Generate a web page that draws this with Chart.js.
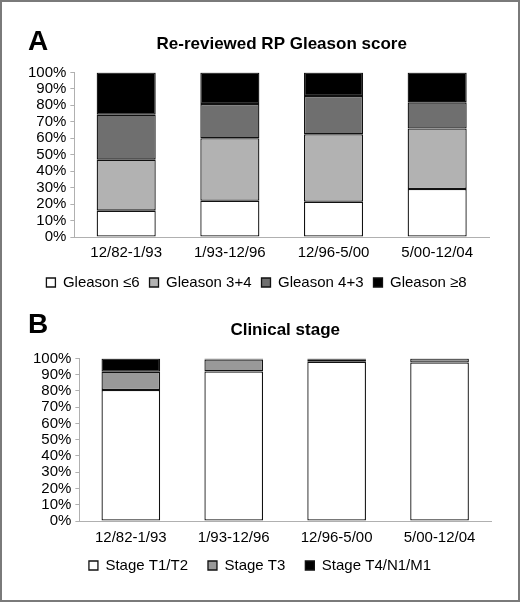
<!DOCTYPE html>
<html>
<head>
<meta charset="utf-8">
<script src="https://cdn.jsdelivr.net/npm/chart.js@4"></script>
<style>
  html, body { margin: 0; padding: 0; background: #fff; }
  #frame { position: relative; width: 520px; height: 602px; box-sizing: border-box; border: 2px solid #7a7a7a; background: #fff; overflow: hidden; }
  .panel { position: absolute; left: -2px; width: 520px; }
  .tag { position: absolute; left: 26px; font: bold 28px "Liberation Sans", Arial, sans-serif; color: #000; }
</style>
</head>
<body>
<div id="frame">
  <div class="panel" style="top:-2px;height:302px"><canvas id="chartA"></canvas></div>
  <div class="panel" style="top:298px;height:304px"><canvas id="chartB"></canvas></div>
  <div class="tag" style="top:23px">A</div>
  <div class="tag" style="top:306px">B</div>
</div>
<script>
const periods = ['12/82-1/93', '1/93-12/96', '12/96-5/00', '5/00-12/04'];
const yTicks = [0, 10, 20, 30, 40, 50, 60, 70, 80, 90, 100];

const gleasonLabels = ['Gleason \u22646', 'Gleason 3+4', 'Gleason 4+3', 'Gleason \u22658'];
const gleason6 = [16, 22, 21.4, 29.2];
const gleason34 = [31, 38, 41, 36.7];
const gleason43 = [27.3, 20.8, 23.3, 15.9];
const gleason8 = [25.7, 19.2, 14.3, 18.2];

const stageLabels = ['Stage T1/T2', 'Stage T3', 'Stage T4/N1/M1'];
const stageT12 = [80.6, 92, 97.9, 97.5];
const stageT3 = [11.2, 7.4, 1.6, 2.5];
const stageT4 = [8.2, 0.6, 0.5, 0];

const FONT = "'Liberation Sans', Arial, sans-serif";

// moves the legend up a bit without shrinking the spacing between items
function legendLift(dy) {
  return {
    id: 'legendLift',
    afterLayout(chart) {
      chart.legend.top -= dy;
      chart.legend.bottom -= dy;
    }
  };
}

function makeDatasets(labels, series, colors) {
  return labels.map((lab, i) => ({
    label: lab,
    data: series[i],
    backgroundColor: colors[i],
    borderColor: '#111',
    borderWidth: 1.3,
    borderSkipped: false,
    barPercentage: 0.57,
    categoryPercentage: 1.0
  }));
}

function makeOptions(title, legendPad, pad, xPad, xHeight) {
  return {
    responsive: true,
    maintainAspectRatio: false,
    animation: false,
    layout: { padding: pad },
    plugins: {
      title: {
        display: true,
        text: title,
        fullSize: false,
        color: '#000',
        font: { family: FONT, size: 17, weight: 'bold' },
        padding: { top: 0, bottom: 18 }
      },
      legend: {
        position: 'bottom',
        labels: {
          color: '#000',
          font: { family: FONT, size: 15 },
          boxWidth: 9,
          boxHeight: 9,
          padding: legendPad
        }
      },
      tooltip: { enabled: false }
    },
    scales: {
      x: {
        stacked: true,
        grid: { display: false, drawTicks: false },
        border: { display: true, color: '#b0b0b0', width: 1 },
        ticks: { color: '#000', font: { family: FONT, size: 15 }, padding: xPad },
        afterFit: axis => { axis.height = xHeight; }
      },
      y: {
        stacked: true,
        min: 0,
        max: 100,
        afterBuildTicks: axis => { axis.ticks = yTicks.map(v => ({ value: v })); },
        grid: { drawOnChartArea: false, drawTicks: true, tickLength: 4, color: '#b0b0b0' },
        border: { display: true, color: '#b0b0b0', width: 1 },
        ticks: { color: '#000', font: { family: FONT, size: 15 }, padding: 4, autoSkip: false, callback: v => v + '%' }
      }
    }
  };
}

new Chart(document.getElementById('chartA'), {
  type: 'bar',
  data: {
    labels: periods,
    datasets: makeDatasets(gleasonLabels, [gleason6, gleason34, gleason43, gleason8],
      ['#ffffff', '#b2b2b2', '#6f6f6f', '#000000'])
  },
  options: makeOptions('Re-reviewed RP Gleason score', 10, { top: 34, left: 24, right: 31, bottom: 2 }, 7, 28)
});

new Chart(document.getElementById('chartB'), {
  type: 'bar',
  data: {
    labels: periods,
    datasets: makeDatasets(stageLabels, [stageT12, stageT3, stageT4],
      ['#ffffff', '#999999', '#000000'])
  },
  options: makeOptions('Clinical stage', 20, { top: 20, left: 29, right: 29, bottom: 10 }, 8, 28),
  plugins: [legendLift(11)]
});
</script>
</body>
</html>
